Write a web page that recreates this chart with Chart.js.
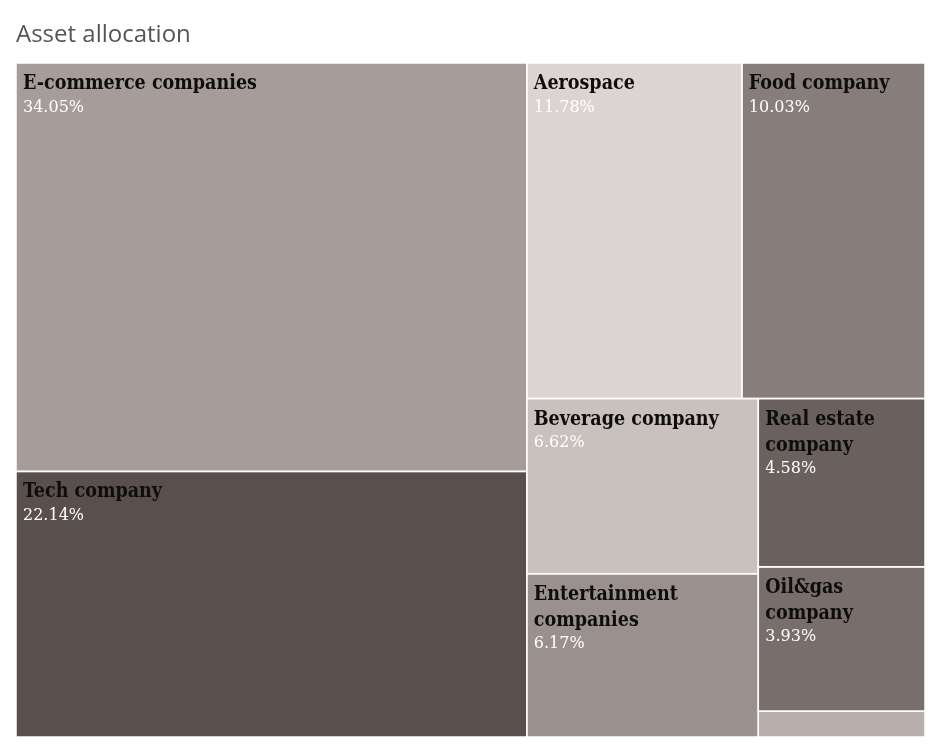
<!DOCTYPE html>
<html>
<head>
<meta charset="utf-8">
<script src="https://cdn.jsdelivr.net/npm/chart.js@4.4.1/dist/chart.umd.min.js"></script>
<style>
  html, body { margin: 0; padding: 0; background: #ffffff; }
  #wrap { width: 940px; height: 752px; position: relative; }
</style>
</head>
<body>
<div id="wrap"><canvas id="c"></canvas></div>
<script>
// ---- data ----
const categories = [
  "E-commerce companies", "Tech company", "Aerospace", "Food company",
  "Beverage company", "Entertainment companies", "Real estate company",
  "Oil&gas company", "Other"
];
const shares = [34.05, 22.14, 11.78, 10.03, 6.62, 6.17, 4.58, 3.93, 0.70];
const shareLabels = ["34.05%", "22.14%", "11.78%", "10.03%", "6.62%", "6.17%", "4.58%", "3.93%", "0.70%"];
const cellColors = ["#a69d9a", "#594f4c", "#dcd4d2", "#877e7b", "#c9c1be", "#9a918e", "#6a605d", "#786e6b", "#b8afac"];

// ---- squarified treemap layout (in pixel-proportional units) ----
function worst(row, side) {
  const s = row.reduce((a, b) => a + b, 0);
  let m = 0;
  row.forEach(r => {
    m = Math.max(m, (side * side * r) / (s * s), (s * s) / (side * side * r));
  });
  return m;
}
function squarify(vals, W, H) {
  const total = vals.reduce((a, b) => a + b, 0);
  const areas = vals.map(v => v / total * W * H);
  const out = [];
  let x = 0, y = 0, w = W, h = H, i = 0;
  while (i < areas.length) {
    const side = Math.min(w, h);
    const row = [areas[i]];
    let j = i + 1;
    while (j < areas.length && worst(row.concat([areas[j]]), side) <= worst(row, side)) {
      row.push(areas[j]); j++;
    }
    const s = row.reduce((a, b) => a + b, 0);
    if (w >= h) {
      const cw = s / h; let yy = y;
      row.forEach(a => { const ch = a / cw; out.push({x0: x, y0: yy, x1: x + cw, y1: yy + ch}); yy += ch; });
      x += cw; w -= cw;
    } else {
      const rh = s / w; let xx = x;
      row.forEach(a => { const rw = a / rh; out.push({x0: xx, y0: y, x1: xx + rw, y1: y + rh}); xx += rw; });
      y += rh; h -= rh;
    }
    i = j;
  }
  return out;
}

// pick a condensed serif if installed, else fall back to regular DejaVu Serif
let NAME_FONT = "bold 17.5px 'DejaVu Serif', serif";
const PCT_FONT = "16px 'DejaVu Serif', serif";
(function pickFont() {
  const c = document.createElement("canvas").getContext("2d");
  const probe = "Entertainment companies";
  c.font = "bold 19.5px 'DejaVu Serif Condensed', monospace";
  const wc = c.measureText(probe).width;
  c.font = "bold 19.5px 'DejaVu Serif', monospace";
  const wr = c.measureText(probe).width;
  c.font = "bold 19.5px monospace";
  const wm = c.measureText(probe).width;
  if (Math.abs(wc - wr) > 2 && Math.abs(wc - wm) > 2) {
    NAME_FONT = "bold 19.5px 'DejaVu Serif Condensed', serif";
  }
})();

function wrapText(ctx, text, maxW) {
  const words = text.split(" ");
  const lines = [];
  let cur = "";
  words.forEach(wd => {
    const t = cur ? cur + " " + wd : wd;
    if (ctx.measureText(t).width <= maxW || !cur) cur = t;
    else { lines.push(cur); cur = wd; }
  });
  if (cur) lines.push(cur);
  return lines;
}

const cellPlugin = {
  id: "cellDecor",
  afterDatasetsDraw(chart) {
    const rects = chart.$cells;
    if (!rects) return;
    const ctx = chart.ctx;
    const xs = chart.scales.x, ys = chart.scales.y;
    ctx.save();
    rects.forEach((r, i) => {
      const L = xs.getPixelForValue(r.x0), R = xs.getPixelForValue(r.x1);
      const T = ys.getPixelForValue(r.y0), B = ys.getPixelForValue(r.y1);
      ctx.strokeStyle = "#ffffff";
      ctx.lineWidth = 1.5;
      ctx.strokeRect(L, T, R - L, B - T);
      // labels
      const pad = 7;
      ctx.font = NAME_FONT;
      const lines = wrapText(ctx, categories[i], (R - L) - 2 * pad);
      const need = 26 * lines.length + 26;
      const widest = Math.max(...lines.map(l => ctx.measureText(l).width));
      if (B - T < need || widest > (R - L) - 4) return;
      ctx.fillStyle = "#0d0d0d";
      ctx.textBaseline = "alphabetic";
      ctx.textAlign = "left";
      let yy = T + 26;
      lines.forEach((l, k) => { ctx.fillText(l, L + pad, yy); if (k < lines.length - 1) yy += 26; });
      ctx.font = PCT_FONT;
      ctx.fillStyle = "#ffffff";
      ctx.fillText(shareLabels[i], L + pad, yy + 22.5);
    });
    ctx.restore();
  }
};

const chart = new Chart(document.getElementById("c"), {
  type: "line",
  data: { datasets: [] },
  options: {
    responsive: true,
    maintainAspectRatio: false,
    animation: false,
    events: [],
    layout: { padding: { left: 16, right: 15, top: 0, bottom: 15 } },
    scales: {
      x: { type: "linear", min: 0, max: 100, display: false },
      y: { type: "linear", min: 0, max: 100, reverse: true, display: false }
    },
    plugins: {
      legend: { display: false },
      tooltip: { enabled: false },
      title: {
        display: true,
        text: "Asset allocation",
        align: "start",
        color: "#555555",
        font: { family: "'Open Sans', sans-serif", size: 24, weight: "normal", lineHeight: 1.2 },
        padding: { top: 21, bottom: 13.2 }
      }
    }
  },
  plugins: [cellPlugin]
});

// build the cells from the chart area's proportions
(function build() {
  const a = chart.chartArea;
  const W = a.right - a.left, H = a.bottom - a.top;
  const px = squarify(shares, W, H);
  const cells = px.map(r => ({ x0: r.x0 / W * 100, x1: r.x1 / W * 100, y0: r.y0 / H * 100, y1: r.y1 / H * 100 }));
  chart.$cells = cells;
  chart.data.datasets = cells.map((c, i) => ({
    label: categories[i],
    data: [{ x: c.x0, y: c.y0 }, { x: c.x1, y: c.y0 }],
    fill: { value: c.y1 },
    backgroundColor: cellColors[i],
    borderWidth: 0,
    pointRadius: 0,
    tension: 0
  }));
  chart.update("none");
})();
</script>
</body>
</html>
